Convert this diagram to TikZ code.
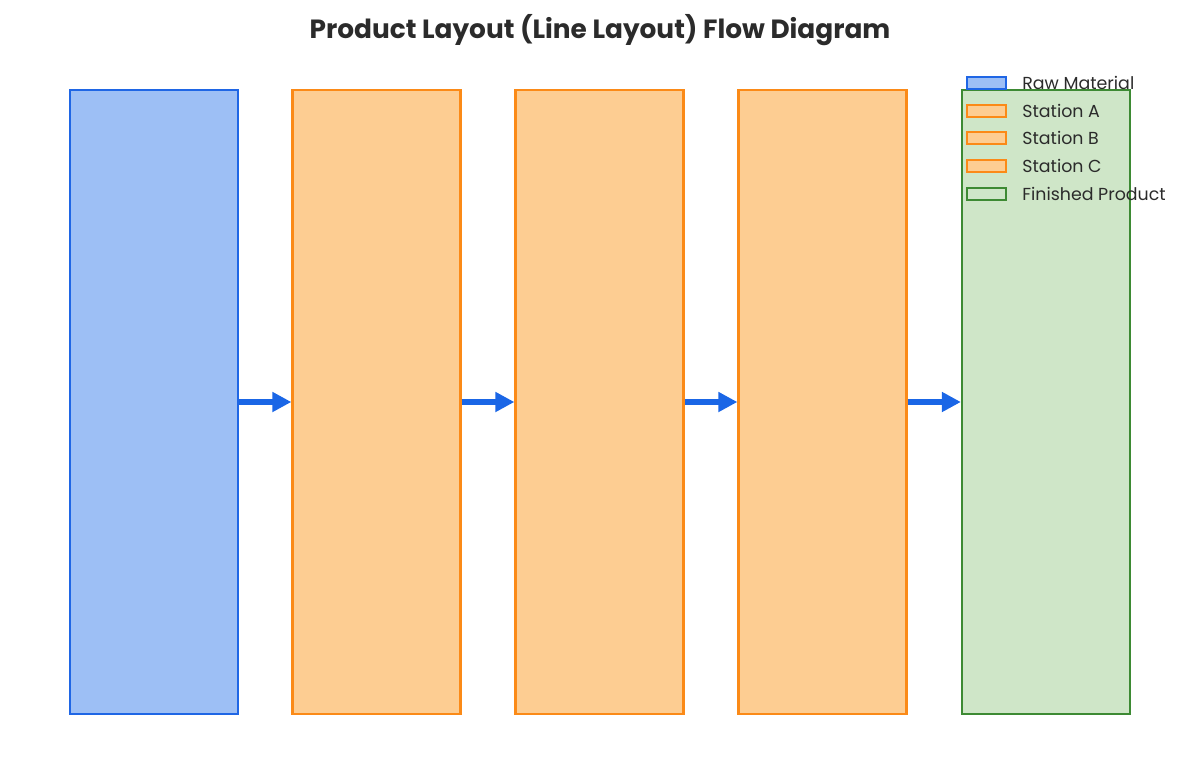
\documentclass[tikz,border=0pt]{standalone}
\usepackage{fontspec}
\setmainfont{Poppins}
\usetikzlibrary{arrows.meta}
\definecolor{rawfill}{HTML}{9DBFF5}
\definecolor{rawline}{HTML}{1F66E5}
\definecolor{stfill}{HTML}{FDCD92}
\definecolor{stline}{HTML}{FB8A17}
\definecolor{finfill}{HTML}{CFE6C8}
\definecolor{finline}{HTML}{3D8A33}
\definecolor{flowblue}{HTML}{1A66E6}
\definecolor{txt}{HTML}{2B2B2B}
\tikzset{
  area/.style={draw, line width=1.3pt, minimum width=3.36cm, minimum height=12.48cm, inner sep=0pt},
  rawbox/.style={area, fill=rawfill, draw=rawline},
  stbox/.style={area, fill=stfill, draw=stline},
  finbox/.style={area, fill=finfill, draw=finline},
  flow/.style={draw=flowblue, line width=3pt, -{Triangle[length=0.38cm,width=0.38cm]}},
  patch/.style={draw, line width=1.2pt, minimum width=0.78cm, minimum height=0.24cm, inner sep=0pt},
  legtext/.style={anchor=west, inner sep=0pt, text=txt, font=\fontsize{9.9}{12}\selectfont}
}
\begin{document}
\begin{tikzpicture}
            \useasboundingbox (0,0) rectangle (24,15.26);
            \node[font=\fontsize{15}{18}\selectfont\bfseries, text=txt] (title) at (12, 14.66) {Product Layout (Line Layout) Flow Diagram};
            % stations along the line
            \node[rawbox] (raw) at (3.08, 7.22) {};
            \node[stbox] (sta) at (7.53, 7.22) {};
            \node[stbox] (stb) at (11.99, 7.22) {};
            \node[stbox] (stc) at (16.45, 7.22) {};
            \node[finbox] (fin) at (20.92, 7.22) {};
            \draw[flow] (raw.east) -- (sta.west);
            \draw[flow] (sta.east) -- (stb.west);
            \draw[flow] (stb.east) -- (stc.west);
            \draw[flow] (stc.east) -- (fin.west);
            % legend
            \node[patch, fill=rawfill, draw=rawline] (k0) at (19.73, 13.60) {};
            \node[patch, fill=stfill, draw=stline] (k1) at (19.73, 13.04) {};
            \node[patch, fill=stfill, draw=stline] (k2) at (19.73, 12.50) {};
            \node[patch, fill=stfill, draw=stline] (k3) at (19.73, 11.94) {};
            \node[patch, fill=finfill, draw=finline] (k4) at (19.73, 11.38) {};
            \node[legtext] (l0) at (20.44, 13.60) {Raw Material};
            \node[legtext] (l1) at (20.44, 13.04) {Station A};
            \node[legtext] (l2) at (20.44, 12.50) {Station B};
            \node[legtext] (l3) at (20.44, 11.94) {Station C};
            \node[legtext] (l4) at (20.44, 11.38) {Finished Product};
        \end{tikzpicture}
\end{document}
